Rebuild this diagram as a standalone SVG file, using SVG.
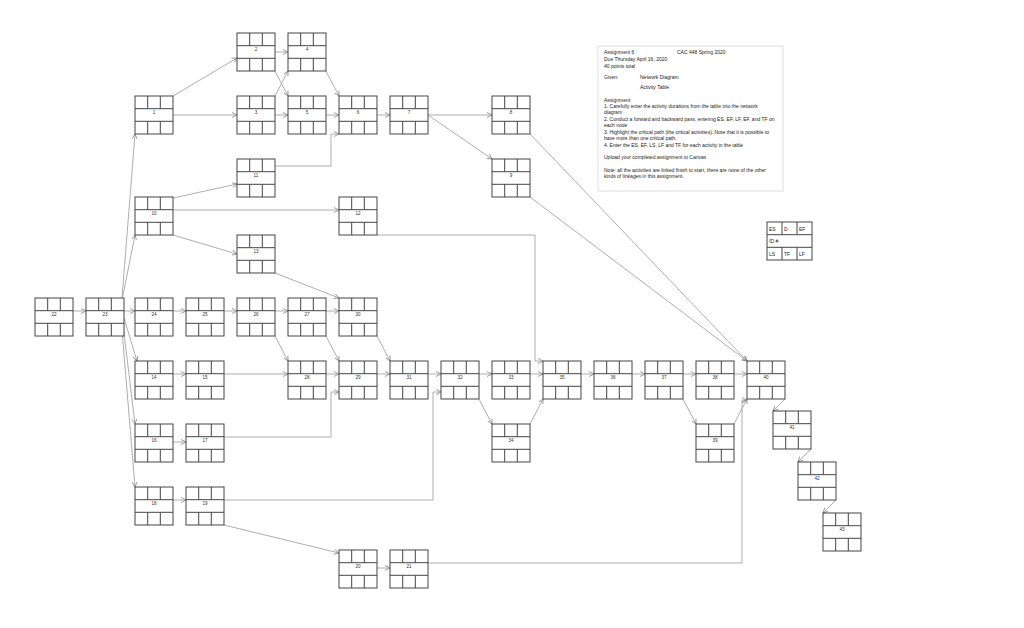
<svg xmlns="http://www.w3.org/2000/svg" xmlns:xlink="http://www.w3.org/1999/xlink" width="1024" height="628" viewBox="0 0 1024 628">
<style>
.n{fill:#fff;stroke:#444;stroke-width:1}
.c{fill:none;stroke:#999;stroke-width:0.8;marker-end:url(#a)}
.t{font-family:"Liberation Sans",Arial,sans-serif;font-size:5px;fill:#222}
.l{font-family:"Liberation Sans",Arial,sans-serif;font-size:4.6px;fill:#333;text-anchor:middle}
</style>
<defs>
<marker id="a" markerWidth="6" markerHeight="6" refX="5" refY="3" orient="auto" markerUnits="userSpaceOnUse"><path d="M0,0.5 L5,3 L0,5.5" fill="none" stroke="#777" stroke-width="0.7"/></marker>
<g id="nd"><rect class="n" width="38" height="38"/><path d="M0,12.7H38M0,25.3H38M12.7,0V12.7M25.3,0V12.7M12.7,25.3V38M25.3,25.3V38" stroke="#444" stroke-width="1" fill="none"/></g>
</defs>
<rect width="1024" height="628" fill="#fff"/>
<g id="connectors">
<path class="c" d="M122,298L135,134"/><path class="c" d="M122,300L135,235"/>
<path class="c" d="M124,311H135"/><path class="c" d="M124,318L137,361"/><path class="c" d="M123,325L135,424"/><path class="c" d="M122,330L135,487"/>
<path class="c" d="M73,311H86"/>
<path class="c" d="M173,96L237,58"/><path class="c" d="M173,115H237"/>
<path class="c" d="M275,52H288"/><path class="c" d="M275,71L288,96"/><path class="c" d="M275,96L288,71"/><path class="c" d="M275,115H288"/>
<path class="c" d="M326,71L339,96"/><path class="c" d="M326,115H339"/><path class="c" d="M377,115H390"/><path class="c" d="M428,115H492"/><path class="c" d="M428,115L492,159"/>
<path class="c" d="M275,166H331V134H339"/>
<path class="c" d="M173,198L237,184"/><path class="c" d="M173,210H339"/><path class="c" d="M173,235L237,254"/>
<path class="c" d="M377,235H535V361H543"/>
<path class="c" d="M275,273L339,298"/>
<path class="c" d="M530,134L747,361"/><path class="c" d="M530,197L747,361"/>
<path class="c" d="M173,311H186"/><path class="c" d="M224,311H237"/><path class="c" d="M275,311H288"/><path class="c" d="M326,311H339"/>
<path class="c" d="M275,336L288,361"/><path class="c" d="M326,336L339,361"/><path class="c" d="M377,336L390,361"/>
<path class="c" d="M173,374H186"/><path class="c" d="M224,374H288"/><path class="c" d="M326,374H339"/><path class="c" d="M377,374H390"/><path class="c" d="M428,374H441"/><path class="c" d="M479,374H492"/><path class="c" d="M530,374H543"/><path class="c" d="M581,374H594"/><path class="c" d="M632,374H645"/><path class="c" d="M683,374H696"/><path class="c" d="M734,374H747"/>
<path class="c" d="M224,437H331V392H339"/>
<path class="c" d="M173,442H186"/><path class="c" d="M173,500H186"/>
<path class="c" d="M224,500H433V392H441"/>
<path class="c" d="M224,525L339,553"/><path class="c" d="M377,568H390"/>
<path class="c" d="M428,563H742V400H747"/>
<path class="c" d="M479,399L492,424"/><path class="c" d="M530,424L543,399"/>
<path class="c" d="M683,399L696,424"/><path class="c" d="M734,424L747,399"/>
<path class="c" d="M785,399L773,411"/><path class="c" d="M811,449L798,462"/><path class="c" d="M836,500L823,513"/>
</g>
<g id="n2"><use href="#nd" x="237" y="33"/><text class="l" x="256" y="51">2</text></g>
<g id="n4"><use href="#nd" x="288" y="33"/><text class="l" x="307" y="51">4</text></g>
<g id="n1"><use href="#nd" x="135" y="96"/><text class="l" x="154" y="114">1</text></g>
<g id="n3"><use href="#nd" x="237" y="96"/><text class="l" x="256" y="114">3</text></g>
<g id="n5"><use href="#nd" x="288" y="96"/><text class="l" x="307" y="114">5</text></g>
<g id="n6"><use href="#nd" x="339" y="96"/><text class="l" x="358" y="114">6</text></g>
<g id="n7"><use href="#nd" x="390" y="96"/><text class="l" x="409" y="114">7</text></g>
<g id="n8"><use href="#nd" x="492" y="96"/><text class="l" x="511" y="114">8</text></g>
<g id="n11"><use href="#nd" x="237" y="159"/><text class="l" x="256" y="177">11</text></g>
<g id="n9"><use href="#nd" x="492" y="159"/><text class="l" x="511" y="177">9</text></g>
<g id="n10"><use href="#nd" x="135" y="197"/><text class="l" x="154" y="215">10</text></g>
<g id="n12"><use href="#nd" x="339" y="197"/><text class="l" x="358" y="215">12</text></g>
<g id="n13"><use href="#nd" x="237" y="235"/><text class="l" x="256" y="253">13</text></g>
<g id="n22"><use href="#nd" x="35" y="298"/><text class="l" x="54" y="316">22</text></g>
<g id="n23"><use href="#nd" x="86" y="298"/><text class="l" x="105" y="316">23</text></g>
<g id="n24"><use href="#nd" x="135" y="298"/><text class="l" x="154" y="316">24</text></g>
<g id="n25"><use href="#nd" x="186" y="298"/><text class="l" x="205" y="316">25</text></g>
<g id="n26"><use href="#nd" x="237" y="298"/><text class="l" x="256" y="316">26</text></g>
<g id="n27"><use href="#nd" x="288" y="298"/><text class="l" x="307" y="316">27</text></g>
<g id="n30"><use href="#nd" x="339" y="298"/><text class="l" x="358" y="316">30</text></g>
<g id="n14"><use href="#nd" x="135" y="361"/><text class="l" x="154" y="379">14</text></g>
<g id="n15"><use href="#nd" x="186" y="361"/><text class="l" x="205" y="379">15</text></g>
<g id="n28"><use href="#nd" x="288" y="361"/><text class="l" x="307" y="379">28</text></g>
<g id="n29"><use href="#nd" x="339" y="361"/><text class="l" x="358" y="379">29</text></g>
<g id="n31"><use href="#nd" x="390" y="361"/><text class="l" x="409" y="379">31</text></g>
<g id="n32"><use href="#nd" x="441" y="361"/><text class="l" x="460" y="379">32</text></g>
<g id="n33"><use href="#nd" x="492" y="361"/><text class="l" x="511" y="379">33</text></g>
<g id="n35"><use href="#nd" x="543" y="361"/><text class="l" x="562" y="379">35</text></g>
<g id="n36"><use href="#nd" x="594" y="361"/><text class="l" x="613" y="379">36</text></g>
<g id="n37"><use href="#nd" x="645" y="361"/><text class="l" x="664" y="379">37</text></g>
<g id="n38"><use href="#nd" x="696" y="361"/><text class="l" x="715" y="379">38</text></g>
<g id="n40"><use href="#nd" x="747" y="361"/><text class="l" x="766" y="379">40</text></g>
<g id="n16"><use href="#nd" x="135" y="424"/><text class="l" x="154" y="442">16</text></g>
<g id="n17"><use href="#nd" x="186" y="424"/><text class="l" x="205" y="442">17</text></g>
<g id="n34"><use href="#nd" x="492" y="424"/><text class="l" x="511" y="442">34</text></g>
<g id="n39"><use href="#nd" x="696" y="424"/><text class="l" x="715" y="442">39</text></g>
<g id="n18"><use href="#nd" x="135" y="487"/><text class="l" x="154" y="505">18</text></g>
<g id="n19"><use href="#nd" x="186" y="487"/><text class="l" x="205" y="505">19</text></g>
<g id="n20"><use href="#nd" x="339" y="550"/><text class="l" x="358" y="568">20</text></g>
<g id="n21"><use href="#nd" x="390" y="550"/><text class="l" x="409" y="568">21</text></g>
<g id="n41"><use href="#nd" x="773" y="411"/><text class="l" x="792" y="429">41</text></g>
<g id="n42"><use href="#nd" x="798" y="462"/><text class="l" x="817" y="480">42</text></g>
<g id="n43"><use href="#nd" x="823" y="513"/><text class="l" x="842" y="531">43</text></g>
<g id="legend">
<rect x="767" y="222" width="45" height="38" fill="#fff" stroke="#444"/>
<path d="M767,234.7H812M767,247.3H812M782,222V234.7M797,222V234.7M782,247.3V260M797,247.3V260" stroke="#444" fill="none"/>
<text class="t" x="769" y="231">ES</text><text class="t" x="784" y="231">D</text><text class="t" x="799" y="231">EF</text>
<text class="t" x="769" y="243">ID #</text>
<text class="t" x="769" y="256">LS</text><text class="t" x="784" y="256">TF</text><text class="t" x="799" y="256">LF</text>
</g>
<g id="info">
<rect x="598" y="46" width="185" height="145" fill="#fff" stroke="#ddd"/>
<text class="t" x="604" y="54">Assignment 6</text><text class="t" x="677" y="54">CAC 448  Spring 2020</text>
<text class="t" x="604" y="61">Due Thursday April 16, 2020</text>
<text class="t" x="604" y="68">40 points total</text>
<text class="t" x="604" y="79">Given:</text><text class="t" x="640" y="79">Network Diagram</text>
<text class="t" x="640" y="89">Activity Table</text>
<text class="t" x="604" y="102">Assignment:</text>
<text class="t" x="604" y="108">1. Carefully enter the activity durations from the table into the network</text>
<text class="t" x="604" y="114">diagram</text>
<text class="t" x="604" y="121">2. Conduct a forward and backward pass, entering ES, EF, LF, EF, and TF on</text>
<text class="t" x="604" y="127">each node</text>
<text class="t" x="604" y="134">3. Highlight the critical path (the critical activities). Note that it is possible to</text>
<text class="t" x="604" y="140">have more than one critical path.</text>
<text class="t" x="604" y="147">4. Enter the ES, EF, LS, LF and TF for each activity in the table</text>
<text class="t" x="604" y="159">Upload your completed assignment to Canvas</text>
<text class="t" x="604" y="172">Note: all the activities are linked finish to start, there are none of the other</text>
<text class="t" x="604" y="178">kinds of linkages in this assignment.</text>
</g>
</svg>
